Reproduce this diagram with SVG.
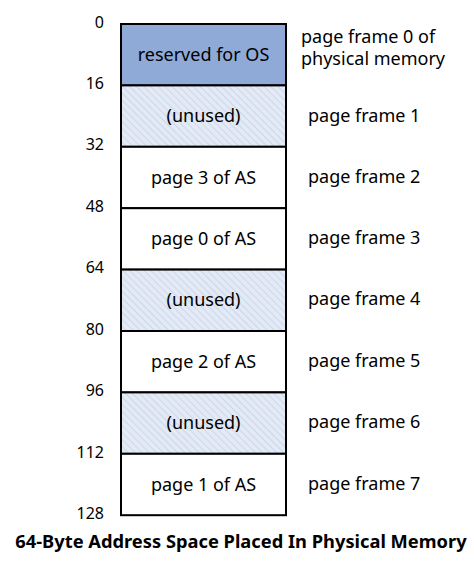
<svg xmlns="http://www.w3.org/2000/svg" width="474" height="564" viewBox="0 0 474 564">
<style>
text{font-family:"Noto Sans","Open Sans",sans-serif;fill:#000}
.lbl{font-size:18px;text-anchor:middle}
.num{font-size:16px;text-anchor:end}
.pf{font-size:18px}
.title{font-size:18.3px;font-weight:bold;text-anchor:middle}
.cell{stroke:#000;stroke-width:2}
</style>
<defs>
<pattern id="hatch" width="5" height="5" patternUnits="userSpaceOnUse" patternTransform="rotate(-45)">
<rect width="5" height="5" fill="#e3eaf5"/>
<line x1="0" y1="0" x2="0" y2="5" stroke="#c3d1e8" stroke-width="1.5"/>
</pattern>
</defs>
<rect width="474" height="564" fill="#fff"/>
<g id="frame0"><rect class="cell" x="121" y="24" width="165" height="61.4" fill="#8faad6"/><text class="lbl" x="203.5" y="61">reserved for OS</text></g>
<g id="frame1"><rect class="cell" x="121" y="85.4" width="165" height="61.4" fill="url(#hatch)"/><text class="lbl" x="203.5" y="122">(unused)</text></g>
<g id="frame2"><rect class="cell" x="121" y="146.8" width="165" height="61.4" fill="#fff"/><text class="lbl" x="203.5" y="184">page 3 of AS</text></g>
<g id="frame3"><rect class="cell" x="121" y="208.2" width="165" height="61.4" fill="#fff"/><text class="lbl" x="203.5" y="245">page 0 of AS</text></g>
<g id="frame4"><rect class="cell" x="121" y="269.6" width="165" height="61.4" fill="url(#hatch)"/><text class="lbl" x="203.5" y="306">(unused)</text></g>
<g id="frame5"><rect class="cell" x="121" y="331" width="165" height="61.4" fill="#fff"/><text class="lbl" x="203.5" y="368">page 2 of AS</text></g>
<g id="frame6"><rect class="cell" x="121" y="392.4" width="165" height="61.4" fill="url(#hatch)"/><text class="lbl" x="203.5" y="429">(unused)</text></g>
<g id="frame7"><rect class="cell" x="121" y="453.8" width="165" height="61.4" fill="#fff"/><text class="lbl" x="203.5" y="491">page 1 of AS</text></g>
<g id="addresses">
<text class="num" x="104" y="28">0</text>
<text class="num" x="104" y="89">16</text>
<text class="num" x="104" y="150">32</text>
<text class="num" x="104" y="212">48</text>
<text class="num" x="104" y="273">64</text>
<text class="num" x="104" y="335">80</text>
<text class="num" x="104" y="396">96</text>
<text class="num" x="104" y="458">112</text>
<text class="num" x="104" y="519">128</text>
</g>
<g id="frame-labels">
<text class="pf" x="301" y="43">page frame 0 of</text>
<text class="pf" x="301" y="65">physical memory</text>
<text class="pf" x="308" y="122">page frame 1</text>
<text class="pf" x="308" y="183">page frame 2</text>
<text class="pf" x="308" y="244">page frame 3</text>
<text class="pf" x="308" y="305">page frame 4</text>
<text class="pf" x="308" y="367">page frame 5</text>
<text class="pf" x="308" y="428">page frame 6</text>
<text class="pf" x="308" y="490">page frame 7</text>
</g>
<text class="title" x="241" y="548">64-Byte Address Space Placed In Physical Memory</text>
</svg>
